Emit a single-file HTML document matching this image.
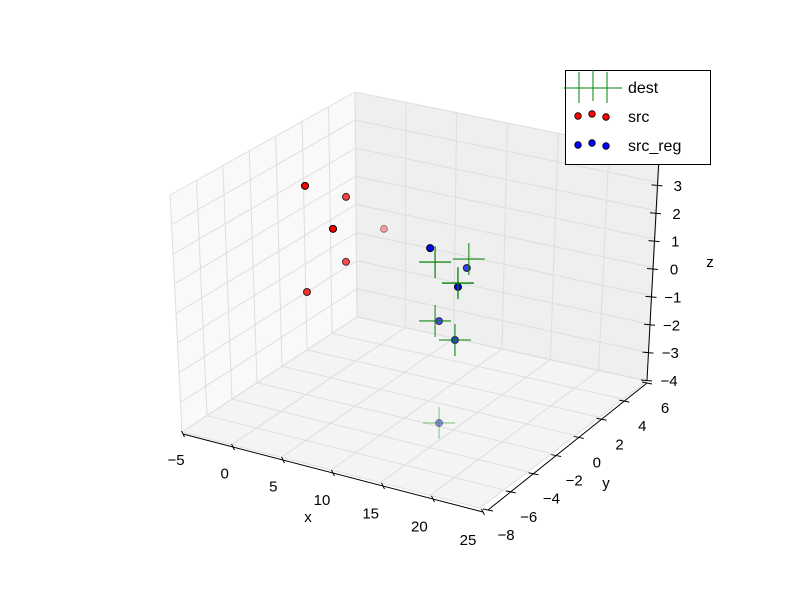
<!DOCTYPE html>
<html><head><meta charset="utf-8"><style>
html,body{margin:0;padding:0;background:#fff;}
svg{display:block;font-family:"Liberation Sans","DejaVu Sans",sans-serif;}
</style></head><body>
<svg id="chart" width="800" height="600" viewBox="0 0 800 600">
<rect width="800" height="600" fill="#fff"/>
<g id="panes"></g>
<g id="grid"></g>
<g id="axes"></g>
<g id="marks"></g>
<g id="legend">
  <rect x="565.5" y="70.5" width="145" height="94" fill="#fff" stroke="#000" stroke-width="1"/>
  <g stroke="#008000" stroke-width="1">
    <line x1="564" y1="88" x2="622" y2="88"/>
    <line x1="579" y1="72" x2="579" y2="103"/><line x1="593" y1="70" x2="593" y2="101"/><line x1="607" y1="72" x2="607" y2="103"/>
  </g>
  <text x="628" y="93" font-size="16">dest</text>
  <g fill="#ff0000" stroke="#000" stroke-width="0.8">
    <circle cx="578" cy="116" r="3.3"/><circle cx="592" cy="114" r="3.3"/><circle cx="606" cy="117" r="3.3"/>
  </g>
  <text x="628" y="122" font-size="16">src</text>
  <g fill="#0000ff" stroke="#000" stroke-width="0.8">
    <circle cx="578" cy="145" r="3.3"/><circle cx="592" cy="143" r="3.3"/><circle cx="606" cy="146" r="3.3"/>
  </g>
  <text x="628" y="151" font-size="16">src_reg</text>
</g>
</svg>
<script>
// ---- data ----
const srcX = [0.2, -0.47, 1.82, -0.47, -2.0, -0.24];
const srcY = [-2, 2, -1, 2, 0, 5];
const srcZ = [2.98, 1.34, 1.36, -0.86, -1.41, -0.63];
const regX = [10.4, 10.5, 14.4, 10.1, 12.9, 13.7];
const regY = [0, 3, -1, 1, 0, -2];
const regZ = [1.14, -0.43, 0.47, -1.66, -1.76, -3.9];
const destX = [10.9, 10.7, 14.4, 9.7, 12.9, 13.7];
const destY = [0, 3, -1, 1, 0, -2];
const destZ = [0.71, -0.11, 0.6, -1.69, -1.76, -3.9];
const xTicks = [-5, 0, 5, 10, 15, 20, 25];
const yTicks = [-8, -6, -4, -2, 0, 2, 4, 6];
const zTicks = [-4, -3, -2, -1, 0, 1, 2, 3];
const srcAlpha = [1, 0.75, 1, 0.7, 0.8, 0.35];
const regAlpha = [1, 0.75, 1, 0.7, 0.75, 0.4];
const destAlpha = [0.9, 0.75, 1, 0.75, 0.8, 0.35];

const NS = "http://www.w3.org/2000/svg";
function mk(tag, attrs, parent){ const e=document.createElementNS(NS,tag); for(const k in attrs) e.setAttribute(k,attrs[k]); parent.appendChild(e); return e; }

const O=[182,432], VX=[9.93,2.53], VY=[11.9,-8.9], VZ=[0,-29.5];
function proj(x,y,z){ const a=x+5,b=y+8,c=z+4; return [O[0]+a*VX[0]+b*VY[0]+c*VZ[0], O[1]+a*VX[1]+b*VY[1]+c*VZ[1]]; }

const A=[182,432],B=[480,508],C=[647,381],D=[357,317],At=[170,195],Dt=[355,92],Ct=[660,154];
function bl(p00,p10,p11,p01,u,v){ return [ (1-u)*(1-v)*p00[0]+u*(1-v)*p10[0]+u*v*p11[0]+(1-u)*v*p01[0], (1-u)*(1-v)*p00[1]+u*(1-v)*p10[1]+u*v*p11[1]+(1-u)*v*p01[1] ]; }
const panes=document.getElementById('panes');
function poly(pts,fill,name){ const e=mk('polygon',{points:pts.map(p=>p.join(',')).join(' '),fill:fill,stroke:'none'},panes);

 }
poly([A,B,C,D],'#f4f4f4','floor-pane');
poly([A,D,Dt,At],'#f9f9f9','left-pane');
poly([D,C,Ct,Dt],'#efefef','back-pane');

const grid=document.getElementById('grid');
function gl(p,q,name){ const e=mk('line',{x1:p[0],y1:p[1],x2:q[0],y2:q[1],stroke:'#dedede','stroke-width':1},grid);

 }
const ux=v=>(v+5)/30, uy=v=>(v+8)/14, uz=v=>(v+4)/8;
xTicks.forEach(t=>{ gl(bl(A,B,C,D,ux(t),0),bl(A,B,C,D,ux(t),1),'grid-x'); gl(bl(D,C,Ct,Dt,ux(t),0),bl(D,C,Ct,Dt,ux(t),1),'grid-x-back'); });
yTicks.forEach(t=>{ gl(bl(A,B,C,D,0,uy(t)),bl(A,B,C,D,1,uy(t)),'grid-y'); gl(bl(A,D,Dt,At,uy(t),0),bl(A,D,Dt,At,uy(t),1),'grid-y-left'); });
zTicks.concat([4]).forEach(t=>{ gl(bl(A,D,Dt,At,0,uz(t)),bl(A,D,Dt,At,1,uz(t)),'grid-z-left'); gl(bl(D,C,Ct,Dt,0,uz(t)),bl(D,C,Ct,Dt,1,uz(t)),'grid-z-back'); });

const axes=document.getElementById('axes');
function al(p,q,name){ const e=mk('line',{x1:p[0],y1:p[1],x2:q[0],y2:q[1],stroke:'#000','stroke-width':1},axes);

 }
function tx(x,y,s,name,size){ const e=mk('text',{x:x,y:y,'font-size':size||15,'text-anchor':'middle'},axes); e.textContent=s;

 }
const fmt=v=>v<0?'\u2212'+(-v):String(v);
const XA0=[183,434],XA1=[483,512];
al(XA0,XA1,'x-axis-line');
xTicks.forEach(t=>{ const u=ux(t); const p=[XA0[0]+u*(XA1[0]-XA0[0]),XA0[1]+u*(XA1[1]-XA0[1])];
  al([p[0]-1.5,p[1]-3],[p[0]+1.5,p[1]+3],'x-tick');
  tx(p[0]-7-u*8,p[1]+31+u*2,fmt(t),'x-tick-label'); });
tx(308,522,'x','x-axis-title');
const YA0=[488,510],YA1=[647,383];
al(YA0,YA1,'y-axis-line');
yTicks.forEach(t=>{ const u=uy(t); const p=[YA0[0]+u*(YA1[0]-YA0[0]),YA0[1]+u*(YA1[1]-YA0[1])];
  al([p[0]-5,p[1]-1],[p[0]+5,p[1]+1],'y-tick');
  tx(p[0]+18,p[1]+30,fmt(t),'y-tick-label'); });
tx(606,488,'y','y-axis-title');
const ZA0=[647,380],ZA1=[659,157];
al(ZA0,ZA1,'z-axis-line');
zTicks.forEach(t=>{ const u=uz(t); const p=[ZA0[0]+u*(ZA1[0]-ZA0[0]),ZA0[1]+u*(ZA1[1]-ZA0[1])];
  al([p[0]-6,p[1]],[p[0]+5,p[1]+1],'z-tick');
  tx(p[0]+22-u*2,p[1]+6,fmt(t),'z-tick-label'); });
tx(710,267,'z','z-axis-title');

const marks=document.getElementById('marks');
srcX.forEach((v,i)=>{ const p=proj(v,srcY[i],srcZ[i]);
  const c=mk('circle',{cx:p[0],cy:p[1],r:3.5,fill:'#ff0000','stroke':'#000','stroke-width':1,'fill-opacity':srcAlpha[i],'stroke-opacity':srcAlpha[i]},marks);
  
   });
regX.forEach((v,i)=>{ const p=proj(v,regY[i],regZ[i]);
  const c=mk('circle',{cx:p[0],cy:p[1],r:3.5,fill:'#0000ff','stroke':'#000','stroke-width':1,'fill-opacity':regAlpha[i],'stroke-opacity':regAlpha[i]},marks);
  
   });
destX.forEach((v,i)=>{ const p=proj(v,destY[i],destZ[i]);
  const g=mk('g',{stroke:'#008000','stroke-width':1.3,'stroke-opacity':destAlpha[i]},marks);
  
  
  mk('line',{x1:p[0]-16,y1:p[1],x2:p[0]+16,y2:p[1]},g);
  mk('line',{x1:p[0],y1:p[1]-16,x2:p[0],y2:p[1]+16},g); });
</script>
</body></html>
